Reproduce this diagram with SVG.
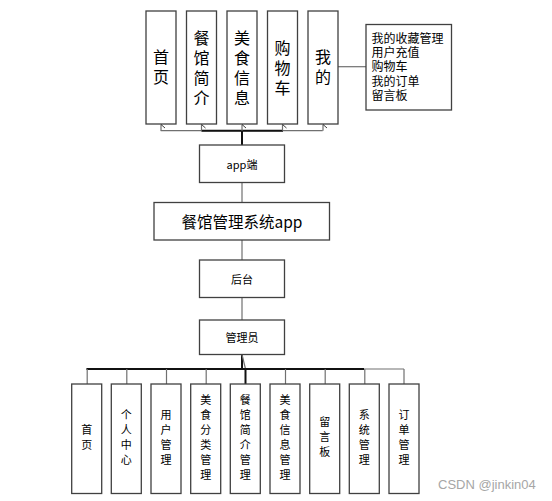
<svg xmlns="http://www.w3.org/2000/svg" width="552" height="501" viewBox="0 0 552 501">
<style>
.box{fill:#fff;stroke:#404040;stroke-width:1.3}
.ln{fill:none;stroke:#707070;stroke-width:1.2}
.th{fill:none;stroke:#111;stroke-width:2}
.t{font-family:"Noto Sans CJK SC","Liberation Sans",sans-serif;fill:#000;text-anchor:middle;dominant-baseline:central}
.v{font-family:"Noto Sans CJK SC",sans-serif;fill:#000;text-anchor:middle;writing-mode:vertical-rl}
.v16{font-size:16px;letter-spacing:4px}
.v11{font-size:11px;letter-spacing:4px}
.t11{font-size:11px}
.s12{font-family:"Liberation Sans","Noto Sans CJK SC",sans-serif;font-size:12px;fill:#000}
</style>
<defs>
<marker id="arr" markerWidth="8" markerHeight="6" refX="4" refY="1" orient="auto-start-reverse" markerUnits="userSpaceOnUse" viewBox="0 0 8 6">
<path d="M0.5,5 L4,1 L7.5,5" fill="none" stroke="#404040" stroke-width="1"/>
</marker>
</defs>
<rect width="552" height="501" fill="#fff"/>
<g id="connectors">
<line class="ln" x1="160.7" y1="130.7" x2="322.7" y2="130.7"/>
<line class="th" x1="201.5" y1="130.7" x2="283" y2="130.7"/>
<line class="th" x1="242" y1="130" x2="242" y2="145"/>
<line class="ln" x1="161" y1="130.7" x2="161" y2="124.5" marker-end="url(#arr)"/>
<line class="ln" x1="201.5" y1="130.7" x2="201.5" y2="124.5" marker-end="url(#arr)"/>
<line class="ln" x1="242" y1="130.7" x2="242" y2="124.5" marker-end="url(#arr)"/>
<line class="ln" x1="282.5" y1="130.7" x2="282.5" y2="124.5" marker-end="url(#arr)"/>
<line class="ln" x1="323" y1="130.7" x2="323" y2="124.5" marker-end="url(#arr)"/>
<line class="ln" x1="338" y1="66.7" x2="366" y2="66.7"/>
<line class="ln" x1="242" y1="182.5" x2="242" y2="202.5"/>
<line class="ln" x1="242" y1="240" x2="242" y2="260"/>
<line class="ln" x1="242" y1="297.5" x2="242" y2="320"/>
<line class="th" x1="242" y1="354.5" x2="242" y2="369"/>
<line class="ln" x1="242" y1="354.5" x2="245.5" y2="369"/>
<line class="ln" x1="86.5" y1="369" x2="404" y2="369"/>
<line class="th" x1="86.5" y1="369" x2="364" y2="369"/>
<line class="ln" x1="87.2" y1="369" x2="87.2" y2="384"/>
<line class="ln" x1="126.8" y1="369" x2="126.8" y2="384"/>
<line class="ln" x1="166.5" y1="369" x2="166.5" y2="384"/>
<line class="ln" x1="206.2" y1="369" x2="206.2" y2="384"/>
<line class="th" x1="245.5" y1="369" x2="245.5" y2="384"/>
<line class="ln" x1="285.5" y1="369" x2="285.5" y2="384"/>
<line class="ln" x1="325.2" y1="369" x2="325.2" y2="384"/>
<line class="ln" x1="364.8" y1="369" x2="364.8" y2="384"/>
<line class="ln" x1="404" y1="369" x2="404" y2="384"/>
</g>
<g id="n-shouye">
<rect class="box" x="146" y="11" width="30" height="113"/>
<text class="v v16" x="161" y="68.5">首页</text>
</g>
<g id="n-canguanjianjie">
<rect class="box" x="186.5" y="11" width="30" height="113"/>
<text class="v v16" x="201.5" y="69.5">餐馆简介</text>
</g>
<g id="n-meishixinxi">
<rect class="box" x="227" y="11" width="30" height="113"/>
<text class="v v16" x="242" y="69.5">美食信息</text>
</g>
<g id="n-gouwuche">
<rect class="box" x="267.5" y="11" width="30" height="113"/>
<text class="v v16" x="282.5" y="69.5">购物车</text>
</g>
<g id="n-wode">
<rect class="box" x="308" y="11" width="30" height="113"/>
<text class="v v16" x="323" y="69">我的</text>
</g>
<g id="n-wode-detail">
<rect class="box" x="366" y="24.5" width="85.5" height="85.5"/>
<text class="s12"><tspan x="371.5" y="42.5">我的收藏管理</tspan><tspan x="371.5" y="56.9">用户充值</tspan><tspan x="371.5" y="71.3">购物车</tspan><tspan x="371.5" y="85.7">我的订单</tspan><tspan x="371.5" y="100.1">留言板</tspan></text>
</g>
<g id="n-app">
<rect class="box" x="199.5" y="145" width="85" height="37.5"/>
<text class="t t11" x="242" y="163.7">app端</text>
</g>
<g id="n-system">
<rect class="box" x="154" y="202.5" width="175.5" height="37.5"/>
<text class="t" style="font-size:15.5px" x="242" y="221">餐馆管理系统app</text>
</g>
<g id="n-houtai">
<rect class="box" x="199.5" y="260" width="85" height="37.5"/>
<text class="t t11" x="242" y="278.5">后台</text>
</g>
<g id="n-admin">
<rect class="box" x="199.5" y="320" width="85" height="34.5"/>
<text class="t t11" x="242" y="337">管理员</text>
</g>
<g id="b-shouye">
<rect class="box" x="71.7" y="384" width="30" height="109.5"/>
<text class="v v11" x="86.7" y="439.5">首页</text>
</g>
<g id="b-gerenzhongxin">
<rect class="box" x="111.3" y="384" width="30" height="109.5"/>
<text class="v v11" x="126.3" y="439">个人中心</text>
</g>
<g id="b-yonghu">
<rect class="box" x="151" y="384" width="30" height="109.5"/>
<text class="v v11" x="166" y="439">用户管理</text>
</g>
<g id="b-meishifenlei">
<rect class="box" x="190.7" y="384" width="30" height="109.5"/>
<text class="v v11" x="205.7" y="439.5">美食分类管理</text>
</g>
<g id="b-canguan">
<rect class="box" x="230.3" y="384" width="30" height="109.5"/>
<text class="v v11" x="245.3" y="439.5">餐馆简介管理</text>
</g>
<g id="b-meishixinxi">
<rect class="box" x="270" y="384" width="30" height="109.5"/>
<text class="v v11" x="285" y="439.5">美食信息管理</text>
</g>
<g id="b-liuyan">
<rect class="box" x="309.7" y="384" width="30" height="109.5"/>
<text class="v v11" x="324.7" y="439">留言板</text>
</g>
<g id="b-xitong">
<rect class="box" x="349.3" y="384" width="30" height="109.5"/>
<text class="v v11" x="364.3" y="439">系统管理</text>
</g>
<g id="b-dingdan">
<rect class="box" x="389" y="384" width="30" height="109.5"/>
<text class="v v11" x="404" y="439">订单管理</text>
</g>
<text x="438" y="489" style="font-family:'Liberation Sans',sans-serif;font-size:13px;fill:#a6a6a6">CSDN @jinkin04</text>
</svg>
